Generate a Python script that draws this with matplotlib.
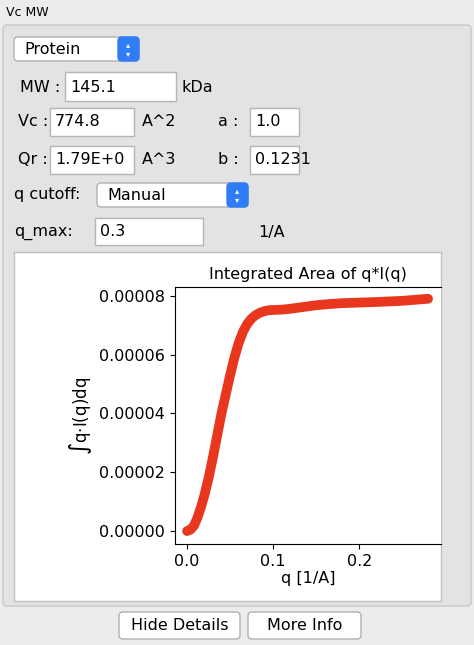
import matplotlib
matplotlib.use("Agg")
import matplotlib.pyplot as plt
from matplotlib.patches import FancyBboxPatch, Rectangle

q = [0.0, 0.004, 0.008, 0.012, 0.016, 0.02, 0.025, 0.03, 0.035, 0.04, 0.045, 0.05, 0.055, 0.06, 0.065, 0.07, 0.075, 0.08, 0.085, 0.09, 0.095, 0.10, 0.11, 0.12, 0.135, 0.15, 0.165, 0.18, 0.20, 0.22, 0.25, 0.28]
area = [0.0, 0.5e-6, 1.8e-6, 4.5e-6, 8e-6, 12e-6, 18e-6, 25e-6, 32.5e-6, 40e-6, 46.5e-6, 53e-6, 59e-6, 64e-6, 67.8e-6, 70.5e-6, 72.3e-6, 73.5e-6, 74.3e-6, 74.8e-6, 75.1e-6, 75.2e-6, 75.3e-6, 75.6e-6, 76.2e-6, 76.8e-6, 77.2e-6, 77.5e-6, 77.7e-6, 77.9e-6, 78.3e-6, 79e-6]
xticks = [0.0, 0.1, 0.2]
yticks = [0, 2e-5, 4e-5, 6e-5, 8e-5]
ytick_labels = ["0.00000", "0.00002", "0.00004", "0.00006", "0.00008"]

W, H = 474, 645
fig = plt.figure(figsize=(W/100, H/100), dpi=100, facecolor="#ececec")
ui = fig.add_axes([0, 0, 1, 1])
ui.set_xlim(0, W); ui.set_ylim(H, 0); ui.axis("off")

FS = 11.5
def box(x0, y0, x1, y1, fc="white", ec="#b5b5b5", r=0):
    if r:
        ui.add_patch(FancyBboxPatch((x0, y0), x1-x0, y1-y0, boxstyle=f"round,pad=0,rounding_size={r}", fc=fc, ec=ec, lw=1))
    else:
        ui.add_patch(Rectangle((x0, y0), x1-x0, y1-y0, fc=fc, ec=ec, lw=1))
def t(x, y, s, **kw):
    ui.text(x, y, s, fontsize=kw.pop("fs", FS), va="center", family="DejaVu Sans", color="black", **kw)

t(6, 12, "Vc MW", fs=9)
box(3, 25, 471, 606, fc="#e3e3e3", ec="#c8c8c8", r=4)

def dropdown(x0, y0, x1, y1, label):
    box(x0, y0, x1, y1, fc="white", ec="#b0b0b0", r=4)
    box(x1-21, y0, x1, y1, fc="#2f7cf6", ec="#2f7cf6", r=4)
    t(x0+10, (y0+y1)/2, label)
    ui.text(x1-10.5, (y0+y1)/2, "▴\n▾", color="white", fontsize=6, ha="center", va="center", linespacing=1.0)

dropdown(14, 37, 139, 61, "Protein")
t(20, 87, "MW :"); box(65, 72, 176, 101); t(70, 87, "145.1"); t(182, 87, "kDa")
t(18, 122, "Vc :"); box(50, 108, 134, 136); t(55, 122, "774.8"); t(142, 122, "A^2")
t(218, 122, "a :"); box(250, 108, 299, 136); t(255, 122, "1.0")
t(18, 160, "Qr :"); box(50, 146, 134, 174); t(55, 160, "1.79E+0"); t(142, 160, "A^3")
t(218, 160, "b :"); box(250, 146, 299, 174); t(255, 160, "0.1231")
t(14, 195, "q cutoff:"); dropdown(97, 183, 248, 207, "Manual")
t(14, 232, "q_max:"); box(95, 218, 203, 245); t(100, 232, "0.3"); t(258, 232, "1/A")
box(14, 252, 441, 601, fc="white", ec="#c0c0c0")
box(119, 612, 240, 639, fc="white", ec="#b0b0b0", r=4); ui.text(179.5, 626, "Hide Details", fontsize=FS, ha="center", va="center")
box(248, 612, 361, 639, fc="white", ec="#b0b0b0", r=4); ui.text(304.5, 626, "More Info", fontsize=FS, ha="center", va="center")

ax = fig.add_axes([175/W, (H-544)/H, 266/W, (544-287)/H])
ax.plot(q, area, color="#e8371e", lw=7, solid_capstyle="round", solid_joinstyle="round")
ax.set_xlim(-0.014, 0.295)
ax.set_ylim(-4.4e-6, 83e-6)
ax.set_xticks(xticks); ax.set_xticklabels(["0.0", "0.1", "0.2"])
ax.set_yticks(yticks); ax.set_yticklabels(ytick_labels)
ax.tick_params(labelsize=11.5)
ax.spines["right"].set_visible(False)
ax.set_title("Integrated Area of q*I(q)", fontsize=11.5, pad=6)
ax.set_xlabel("q [1/A]", fontsize=11.5, labelpad=2)
ax.set_ylabel(r"$\int$q$\cdot$I(q)dq", fontsize=12)
fig.savefig("out.png", dpi=100, facecolor=fig.get_facecolor())
